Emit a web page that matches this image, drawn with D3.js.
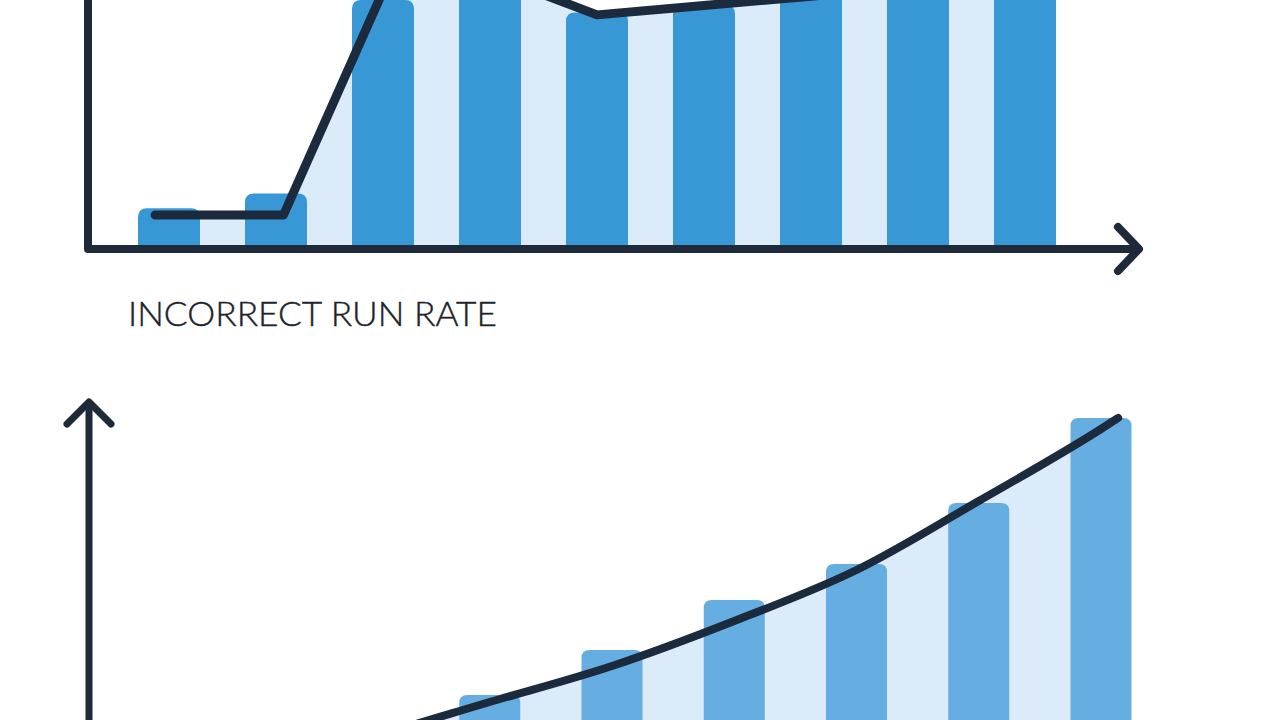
<!DOCTYPE html>
<html>
<head>
<meta charset="utf-8">
<script src="https://cdn.jsdelivr.net/npm/d3@7/dist/d3.min.js"></script>
<style>
  html, body { margin: 0; padding: 0; background: #ffffff; }
  svg { display: block; }
</style>
</head>
<body>
<svg id="chart" width="1280" height="720"></svg>
<script>
// ---------- DATA ----------
const title = "INCORRECT RUN RATE";

// Top chart (incorrect run rate): nine periods
const topCategories = ["P1", "P2", "P3", "P4", "P5", "P6", "P7", "P8", "P9"];
const topBarValues  = [16, 22, 100, 110, 95, 98, 112, 114, 116];
const topLineIndex  = [-0.13, 1.07, 2, 3, 4, 5, 6, 7, 8];
const topLineValues = [13.3, 13.3, 103.6, 110.4, 94, 97.8, 101.5, 105.5, 109.5];

// Bottom chart (correct run rate): nine periods
const botCategories = ["Q1", "Q2", "Q3", "Q4", "Q5", "Q6", "Q7", "Q8", "Q9"];
const botBarValues  = [5, 10, 17.5, 28.75, 40, 52.5, 61.5, 76.75, 98];
const botLineIndex  = [0, 1, 2, 3, 4, 5, 6, 7, 8, 8.14];
const botLineValues = [3.75, 10, 18, 27, 36, 47.25, 60, 77.25, 95.25, 98];

// ---------- STYLE ----------
const axisColor = "#1e2a3a";
const lineColor = "#1b2a3d";
const topDark = "#3898d6";
const topLight = "#dcebf9";
const botDark = "#66aee1";
const botLight = "#dcebf9";

const svg = d3.select("#chart");

function roundTopBar(x0, x1, yTop, yBase, r) {
  const rr = Math.min(r, (x1 - x0) / 2, Math.max(0, yBase - yTop));
  return `M${x0},${yBase} L${x0},${yTop + rr} Q${x0},${yTop} ${x0 + rr},${yTop} ` +
         `L${x1 - rr},${yTop} Q${x1},${yTop} ${x1},${yTop + rr} L${x1},${yBase} Z`;
}

// ================= TOP CHART =================
{
  const base = 248;
  const x = d3.scaleLinear().domain([0, topCategories.length - 1]).range([169, 1025]);
  const y = d3.scaleLinear().domain([0, 100]).range([base, 0]);
  const barW = 62;
  const g = svg.append("g");

  const pts = topLineIndex.map((i, k) => [i, topLineValues[k]]);

  // light area under the line
  g.append("path")
    .datum(pts)
    .attr("fill", topLight)
    .attr("d", d3.area().x(d => x(d[0])).y0(y(0)).y1(d => y(d[1])));

  // dark bars
  g.selectAll("path.bar")
    .data(topCategories)
    .join("path")
    .attr("class", "bar")
    .attr("fill", topDark)
    .attr("d", (c, i) => roundTopBar(x(i) - barW / 2, x(i) + barW / 2, y(topBarValues[i]), y(0), 9));

  // line
  g.append("path")
    .datum(pts)
    .attr("fill", "none")
    .attr("stroke", lineColor)
    .attr("stroke-width", 9)
    .attr("stroke-linecap", "round")
    .attr("stroke-linejoin", "round")
    .attr("d", d3.line().x(d => x(d[0])).y(d => y(d[1])));

  // axes
  g.append("path")
    .attr("fill", "none")
    .attr("stroke", axisColor)
    .attr("stroke-width", 8)
    .attr("stroke-linejoin", "round")
    .attr("d", `M88,-20 L88,${base + 1} L1138,${base + 1}`);
  g.append("path")
    .attr("fill", "none")
    .attr("stroke", axisColor)
    .attr("stroke-width", 8)
    .attr("stroke-linecap", "round")
    .attr("stroke-linejoin", "round")
    .attr("d", `M1118,${base - 21} L1139,${base + 1} L1118,${base + 23}`);
}

// ================= TITLE =================
svg.append("text")
  .attr("x", 128)
  .attr("y", 326)
  .attr("font-family", "Lato, 'Open Sans', sans-serif")
  .attr("font-size", 34)
  .attr("font-weight", 300)
  .attr("fill", "#1c232c")
  .attr("stroke", "#1c232c")
  .attr("stroke-width", 0.4)
  .attr("textLength", 369)
  .attr("lengthAdjust", "spacingAndGlyphs")
  .text(title);

// ================= BOTTOM CHART =================
{
  const base = 810;
  const x = d3.scaleLinear().domain([0, botCategories.length - 1]).range([123, 1101]);
  const y = d3.scaleLinear().domain([0, 100]).range([base, base - 400]);
  const barW = 61;
  const g = svg.append("g");

  const pts = botLineIndex.map((i, k) => [i, botLineValues[k]]);

  g.append("path")
    .datum(pts)
    .attr("fill", botLight)
    .attr("d", d3.area().curve(d3.curveMonotoneX).x(d => x(d[0])).y0(y(0)).y1(d => y(d[1])));

  g.selectAll("path.bar")
    .data(botCategories)
    .join("path")
    .attr("class", "bar")
    .attr("fill", botDark)
    .attr("d", (c, i) => roundTopBar(x(i) - barW / 2, x(i) + barW / 2, y(botBarValues[i]), y(0), 8));

  g.append("path")
    .datum(pts)
    .attr("fill", "none")
    .attr("stroke", lineColor)
    .attr("stroke-width", 8)
    .attr("stroke-linecap", "round")
    .attr("stroke-linejoin", "round")
    .attr("d", d3.line().curve(d3.curveMonotoneX).x(d => x(d[0])).y(d => y(d[1])));

  // axes
  g.append("path")
    .attr("fill", "none")
    .attr("stroke", axisColor)
    .attr("stroke-width", 7)
    .attr("d", `M89,403 L89,${base} L1138,${base}`);
  g.append("path")
    .attr("fill", "none")
    .attr("stroke", axisColor)
    .attr("stroke-width", 7)
    .attr("stroke-linecap", "round")
    .attr("stroke-linejoin", "round")
    .attr("d", "M67,424 L89,402 L111,424");
}
</script>
</body>
</html>
